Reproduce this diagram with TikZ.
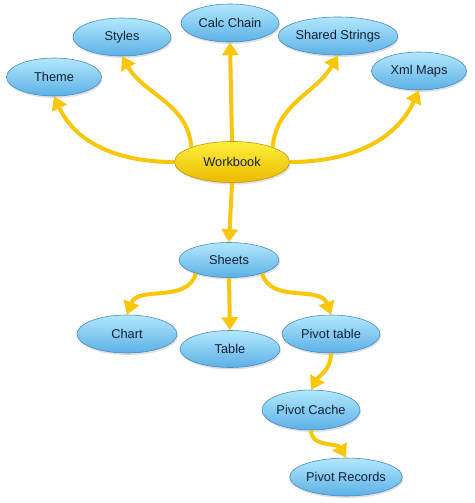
\documentclass[tikz,border=0pt]{standalone}
\usepackage{fontspec}
\setmainfont{Liberation Sans}
\usetikzlibrary{shapes.geometric,arrows.meta,shadows}

\definecolor{partblue}{RGB}{92,176,230}
\definecolor{parttop}{RGB}{178,232,252}
\definecolor{partedge}{RGB}{70,140,200}
\definecolor{wbtop}{RGB}{255,240,60}
\definecolor{wbbottom}{RGB}{235,185,0}
\definecolor{wbedge}{RGB}{190,150,0}
\definecolor{linkyellow}{RGB}{250,198,10}
\definecolor{labeltext}{RGB}{20,32,50}

\tikzset{
  part/.style={ellipse,draw=partedge,line width=0.6pt,top color=parttop,bottom color=partblue,
    minimum width=98pt,minimum height=38pt,inner sep=0pt,text=labeltext,
    font=\fontsize{12.8}{14}\selectfont,
    drop shadow={opacity=0.25,shadow xshift=1pt,shadow yshift=-2pt}},
  root/.style={part,draw=wbedge,top color=wbtop,bottom color=wbbottom,
    minimum width=115pt,minimum height=41pt},
  link/.style={draw=linkyellow,line width=4pt,
    -{Triangle[length=13pt,width=16pt]}}
}

\begin{document}
\begin{tikzpicture}[x=1pt,y=1pt]
\useasboundingbox (0,0) rectangle (474,-503);

\node [root] (wb) at(232,-162){Workbook};

\node [part,minimum width=95pt] (theme) at(54,-77){Theme};
\node [part] (styles) at(122,-37){Styles};
\node [part] (calc) at(230,-23){Calc Chain};
\node [part] (shared) at(338,-36){Shared Strings};
\node [part,minimum width=95pt] (xml) at(419,-71){Xml Maps};

\node [part,minimum width=100pt,minimum height=35pt] (sheets) at(229,-260){Sheets};
\node [part,minimum width=100pt] (chart) at(127,-334){Chart};
\node [part,minimum width=100pt,minimum height=37pt] (table) at(230,-349){Table};
\node [part] (pivot) at(331,-334){Pivot table};
\node [part,minimum height=40pt] (cache) at(311,-410){Pivot Cache};
\node [part] (records) at(346,-477){Pivot Records};

\draw[link](wb.west) to[out=180,in=-65] (theme.south);
\draw[link](wb.160) to[out=95,in=-60] (styles.south);
\draw[link](wb.north) -- (calc.south);
\draw[link](wb.20) to[out=85,in=-120] (shared.south);
\draw[link](wb.east) to[out=0,in=-115] (xml.south);

\draw[link](wb.south) -- (sheets.north);
\draw[link](sheets.202) to[out=-105,in=70] (chart.north);
\draw[link](sheets.south) -- (table.north);
\draw[link](sheets.-22) to[out=-75,in=110] (pivot.north);
\draw[link](pivot.south) to[out=-90,in=60] (cache.north);
\draw[link](cache.south) to[out=-90,in=120] (records.north);
\end{tikzpicture}
\end{document}
